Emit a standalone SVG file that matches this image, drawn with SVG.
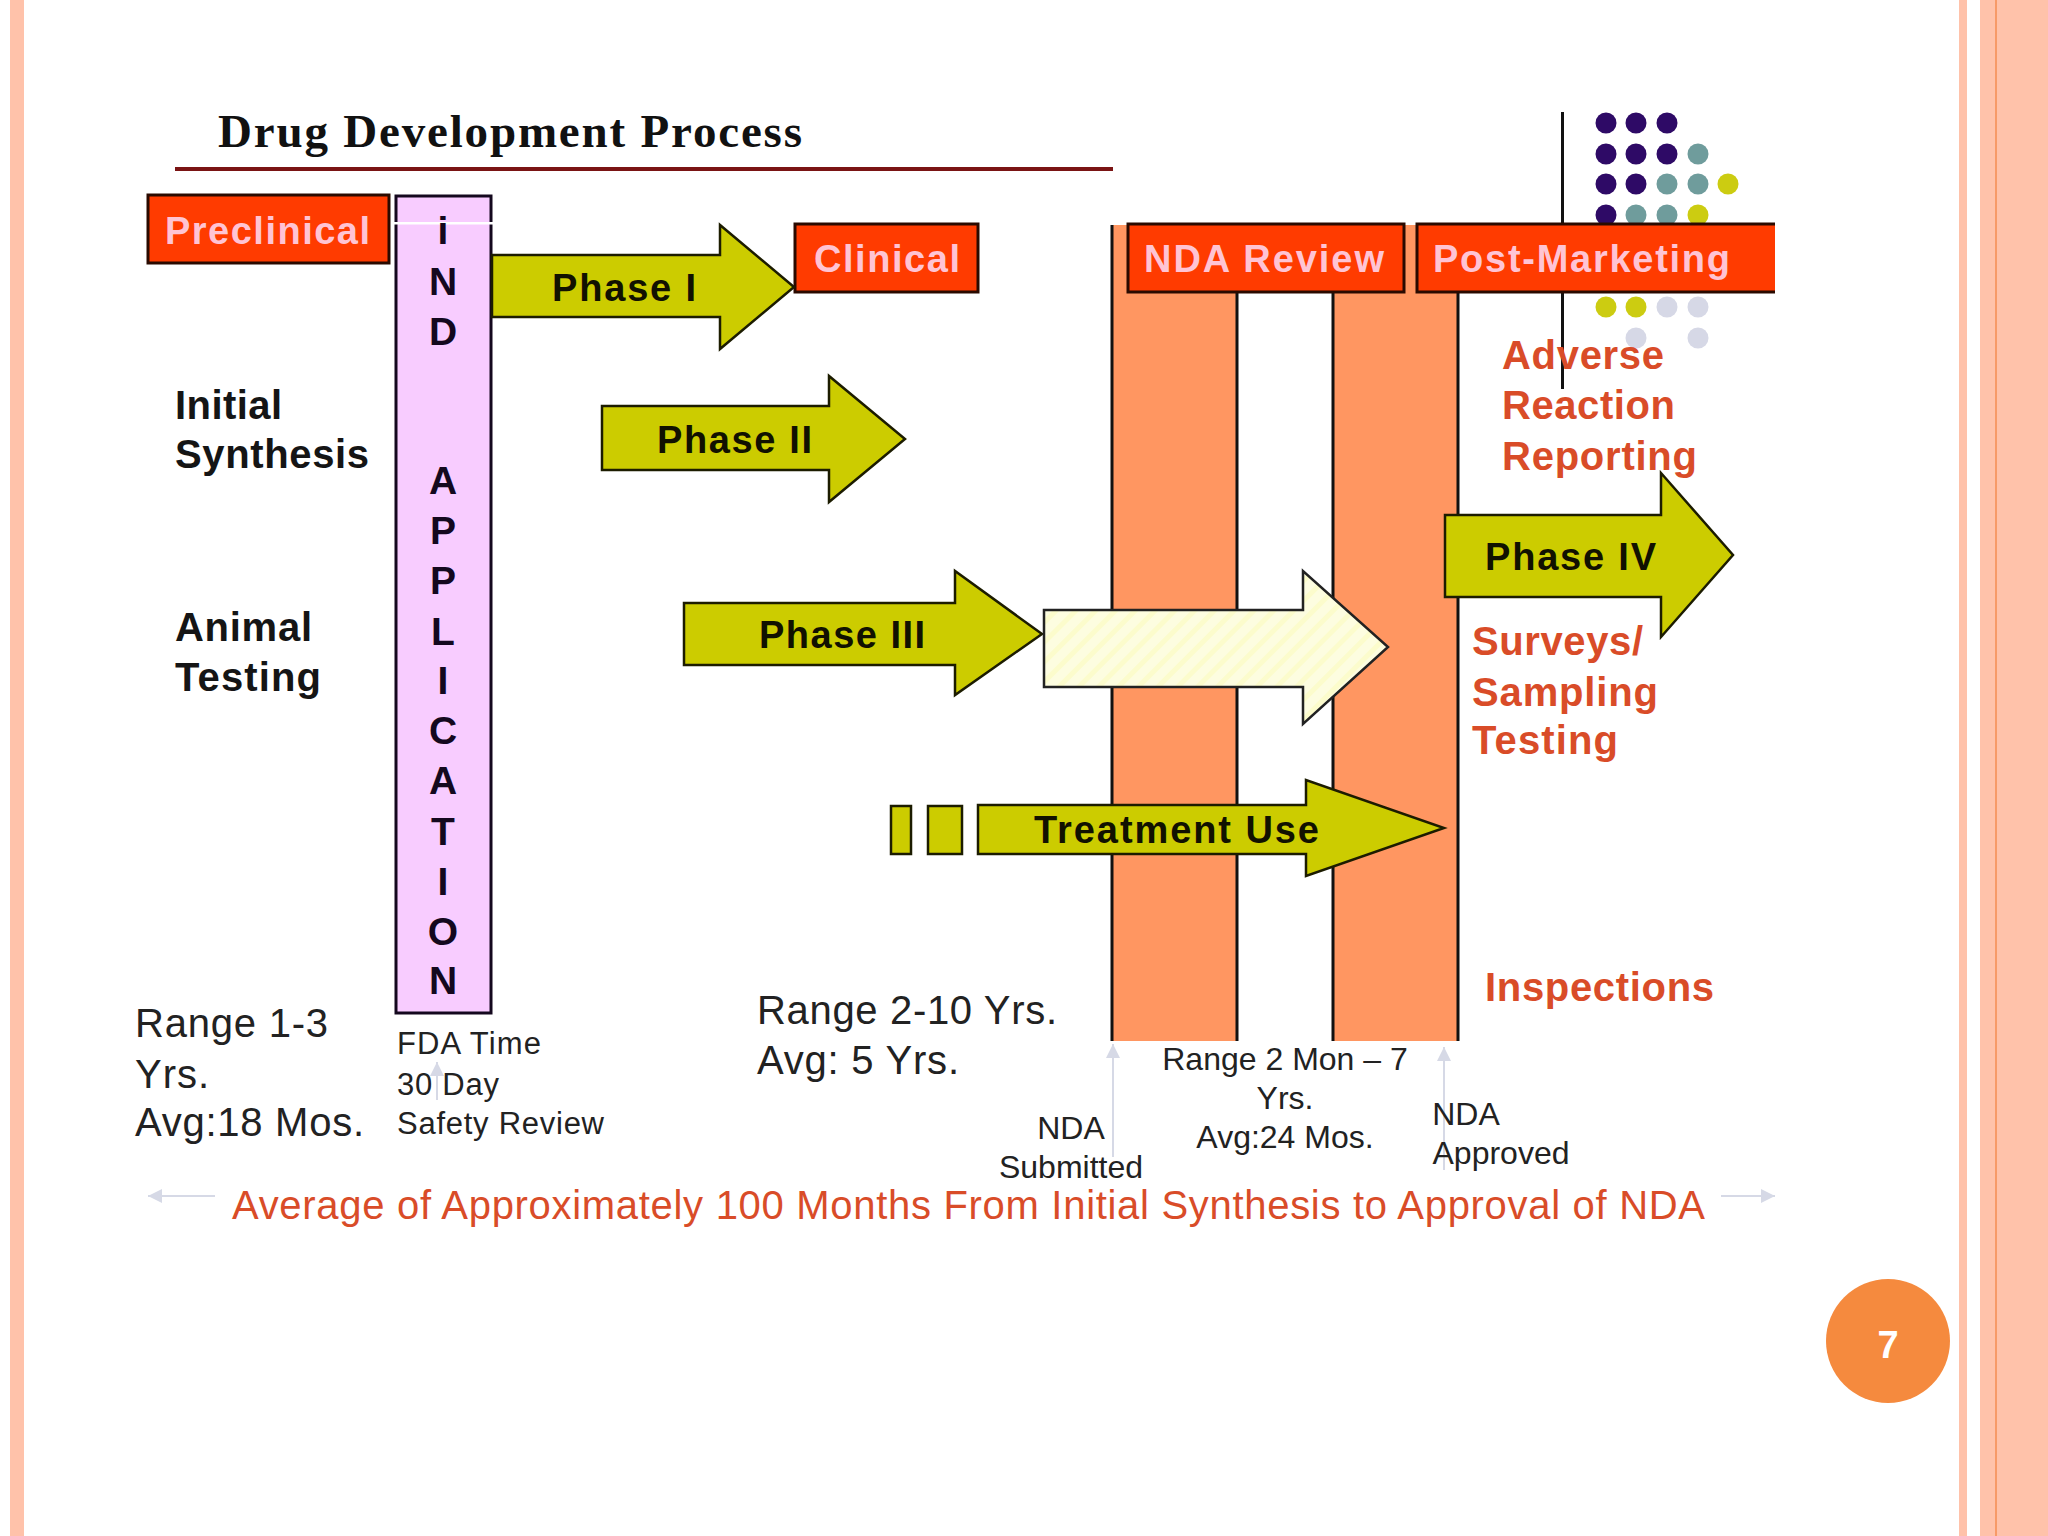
<svg xmlns="http://www.w3.org/2000/svg" width="2048" height="1536" viewBox="0 0 2048 1536">
<style>
text{font-family:"Liberation Sans",Arial,sans-serif}
.hdr{fill:#ff3b00;stroke:#2a0a00;stroke-width:3}
.hl{font-weight:bold;font-size:38px;fill:#ffc4d4}
.arr{fill:#cccc00;stroke:#1c1c00;stroke-width:2.5;stroke-linejoin:miter}
.al{font-weight:bold;font-size:38px;fill:#111100}
.col{fill:#ff9661;stroke:none}
.edge{stroke:#111;stroke-width:3}
.blk{font-weight:bold;font-size:40px;fill:#151515}
.red{font-weight:bold;font-size:40px;fill:#d94c28}
.reg{font-size:40px;fill:#222}
.sm{font-size:31px;fill:#222}
.mid{font-size:32px;fill:#222;text-anchor:middle}
.ind{font-weight:bold;font-size:39px;fill:#14081e;text-anchor:middle}
.pale{stroke:#d6d9e6;stroke-width:2;fill:none;marker-end:url(#h)}
.d1{fill:#2e0a66}.d2{fill:#6f9c9c}.d3{fill:#cccc11}.d4{fill:#d6d8e6}
</style>
<defs>
<marker id="h" markerUnits="userSpaceOnUse" markerWidth="16" markerHeight="16" refX="14" refY="7" orient="auto"><path d="M0 0L14 7L0 14Z" fill="#d6d9e6"/></marker>
<pattern id="p" width="14" height="14" patternUnits="userSpaceOnUse" patternTransform="rotate(45)"><rect width="14" height="14" fill="#fdfde0"/><rect width="5" height="14" fill="#fcfccc"/></pattern>
</defs>
<rect width="2048" height="1536" fill="#fff"/>
<g id="frame">
<rect x="10" y="0" width="14" height="1536" fill="#ffc2aa"/>
<rect x="1959" y="0" width="8" height="1536" fill="#ffc2aa"/>
<rect x="1980" y="0" width="68" height="1536" fill="#ffc2aa"/>
<rect x="1995" y="0" width="2" height="1536" fill="#f79a68"/>
</g>
<g id="title">
<text x="218" y="147" font-size="47" font-weight="bold" textLength="584" style="font-family:'Liberation Serif',serif" fill="#111">Drug Development Process</text>
<rect x="175" y="167" width="938" height="4" fill="#7a1414"/>
</g>
<g id="decor">
<rect x="1561" y="112" width="3" height="277" fill="#111"/>
<circle class="d1" cx="1606" cy="123" r="10.500"/><circle class="d1" cx="1636" cy="123" r="10.500"/><circle class="d1" cx="1667" cy="123" r="10.500"/>
<circle class="d1" cx="1606" cy="154" r="10.500"/><circle class="d1" cx="1636" cy="154" r="10.500"/><circle class="d1" cx="1667" cy="154" r="10.500"/><circle class="d2" cx="1698" cy="154" r="10.500"/>
<circle class="d1" cx="1606" cy="184" r="10.500"/><circle class="d1" cx="1636" cy="184" r="10.500"/><circle class="d2" cx="1667" cy="184" r="10.500"/><circle class="d2" cx="1698" cy="184" r="10.500"/><circle class="d3" cx="1728" cy="184" r="10.500"/>
<circle class="d1" cx="1606" cy="215" r="10.500"/><circle class="d2" cx="1636" cy="215" r="10.500"/><circle class="d2" cx="1667" cy="215" r="10.500"/><circle class="d3" cx="1698" cy="215" r="10.500"/>
<circle class="d3" cx="1606" cy="307" r="10.500"/><circle class="d3" cx="1636" cy="307" r="10.500"/><circle class="d4" cx="1667" cy="307" r="10.500"/><circle class="d4" cx="1698" cy="307" r="10.500"/>
<circle class="d4" cx="1636" cy="338" r="10.500"/><circle class="d4" cx="1698" cy="338" r="10.500"/>
</g>
<g id="nda-columns">
<rect class="col" x="1112" y="225" width="125" height="816"/>
<rect class="col" x="1333" y="225" width="125" height="816"/>
<path class="edge" d="M1112 225V1041M1237 225V1041M1333 225V1041M1458 225V1041" fill="none"/>
</g>
<g id="preclinical"><rect class="hdr" x="148" y="195" width="241" height="68"/><text class="hl" x="165" y="244" textLength="205">Preclinical</text></g>
<g id="clinical"><rect class="hdr" x="795" y="224" width="183" height="68"/><text class="hl" x="814" y="272" textLength="146">Clinical</text></g>
<g id="nda-review"><rect class="hdr" x="1128" y="224" width="276" height="68"/><text class="hl" x="1144" y="272" textLength="240">NDA Review</text></g>
<g id="post-marketing"><rect x="1417" y="224" width="358" height="68" fill="#ff3b00"/><path d="M1775 224H1417V292H1775" fill="none" stroke="#2a0a00" stroke-width="3"/><text class="hl" x="1433" y="272" textLength="297">Post-Marketing</text></g>
<g id="ind-application">
<rect x="396" y="196" width="95" height="817" fill="#f8ccff" stroke="#14081e" stroke-width="3"/>
<rect x="394" y="222" width="99" height="2.500" fill="#fff"/>
<text class="ind" x="443" y="244">i</text><text class="ind" x="443" y="295">N</text><text class="ind" x="443" y="345">D</text>
<text class="ind" x="443" y="494">A</text><text class="ind" x="443" y="544">P</text><text class="ind" x="443" y="594">P</text><text class="ind" x="443" y="645">L</text><text class="ind" x="443" y="694">I</text><text class="ind" x="443" y="744">C</text><text class="ind" x="443" y="794">A</text><text class="ind" x="443" y="845">T</text><text class="ind" x="443" y="895">I</text><text class="ind" x="443" y="945">O</text><text class="ind" x="443" y="994">N</text>
</g>
<g id="phase-1"><path class="arr" d="M492 255H720V225L794 287L720 349V317H492Z"/><text class="al" x="552" y="301" textLength="144">Phase I</text></g>
<g id="phase-2"><path class="arr" d="M602 406H829V376L905 439L829 502V470H602Z"/><text class="al" x="657" y="453" textLength="155">Phase II</text></g>
<g id="phase-3"><path class="arr" d="M684 603H955V571L1042 634L955 695V665H684Z"/><text class="al" x="759" y="648" textLength="166">Phase III</text></g>
<g id="phase-3-nda"><path d="M1044 610H1303V571L1388 647L1303 724V687H1044Z" fill="url(#p)" stroke="#222" stroke-width="2.500"/></g>
<g id="phase-4"><path class="arr" d="M1445 515H1661V473L1733 555L1661 637V597H1445Z"/><text class="al" x="1485" y="570" textLength="171">Phase IV</text></g>
<g id="treatment-use">
<rect class="arr" x="891" y="806" width="20" height="48"/>
<rect class="arr" x="928" y="806" width="34" height="48"/>
<path class="arr" d="M978 805H1306V780L1444 828L1306 876V854H978Z"/>
<text class="al" x="1034" y="843" textLength="285">Treatment Use</text>
</g>
<g id="preclinical-notes">
<text class="blk" x="175" y="419" textLength="107">Initial</text><text class="blk" x="175" y="468" textLength="194">Synthesis</text>
<text class="blk" x="175" y="641" textLength="137">Animal</text><text class="blk" x="175" y="691" textLength="146">Testing</text>
</g>
<g id="postmarketing-notes">
<text class="red" x="1502" y="369" textLength="162">Adverse</text><text class="red" x="1502" y="419" textLength="173">Reaction</text><text class="red" x="1502" y="470" textLength="195">Reporting</text>
<text class="red" x="1472" y="655" textLength="171">Surveys/</text><text class="red" x="1472" y="706" textLength="186">Sampling</text><text class="red" x="1472" y="754" textLength="146">Testing</text>
<text class="red" x="1485" y="1001" textLength="229">Inspections</text>
</g>
<g id="connectors">
<path class="pale" d="M437 1100V1062"/>
<path class="pale" d="M1113 1157V1044"/>
<path class="pale" d="M1444 1170V1047"/>
<path class="pale" d="M215 1196H148"/>
<path class="pale" d="M1721 1196H1775"/>
</g>
<g id="range-notes">
<text class="reg" x="135" y="1037" textLength="193">Range 1-3</text><text class="reg" x="135" y="1088" textLength="74">Yrs.</text><text class="reg" x="135" y="1136" textLength="229">Avg:18 Mos.</text>
<text class="sm" x="397" y="1054" textLength="144">FDA Time</text><text class="sm" x="397" y="1095" textLength="102">30 Day</text><text class="sm" x="397" y="1134" textLength="207">Safety Review</text>
<text class="reg" x="757" y="1024" textLength="300">Range 2-10 Yrs.</text><text class="reg" x="757" y="1074" textLength="202">Avg: 5 Yrs.</text>
<text class="mid" x="1285" y="1070">Range 2 Mon – 7</text><text class="mid" x="1285" y="1109">Yrs.</text><text class="mid" x="1285" y="1148">Avg:24 Mos.</text>
<text class="mid" x="1071" y="1139">NDA</text><text class="mid" x="1071" y="1178">Submitted</text>
<text class="mid" x="1466" y="1125">NDA</text><text class="mid" x="1501" y="1164">Approved</text>
<text x="232" y="1219" font-size="40" fill="#d94c28" textLength="1473">Average of Approximately 100 Months From Initial Synthesis to Approval of NDA</text>
</g>
<g id="page-number"><circle cx="1888" cy="1341" r="62" fill="#f58a3e"/><text x="1888" y="1358" font-size="38" font-weight="bold" fill="#fff" text-anchor="middle">7</text></g>
</svg>
